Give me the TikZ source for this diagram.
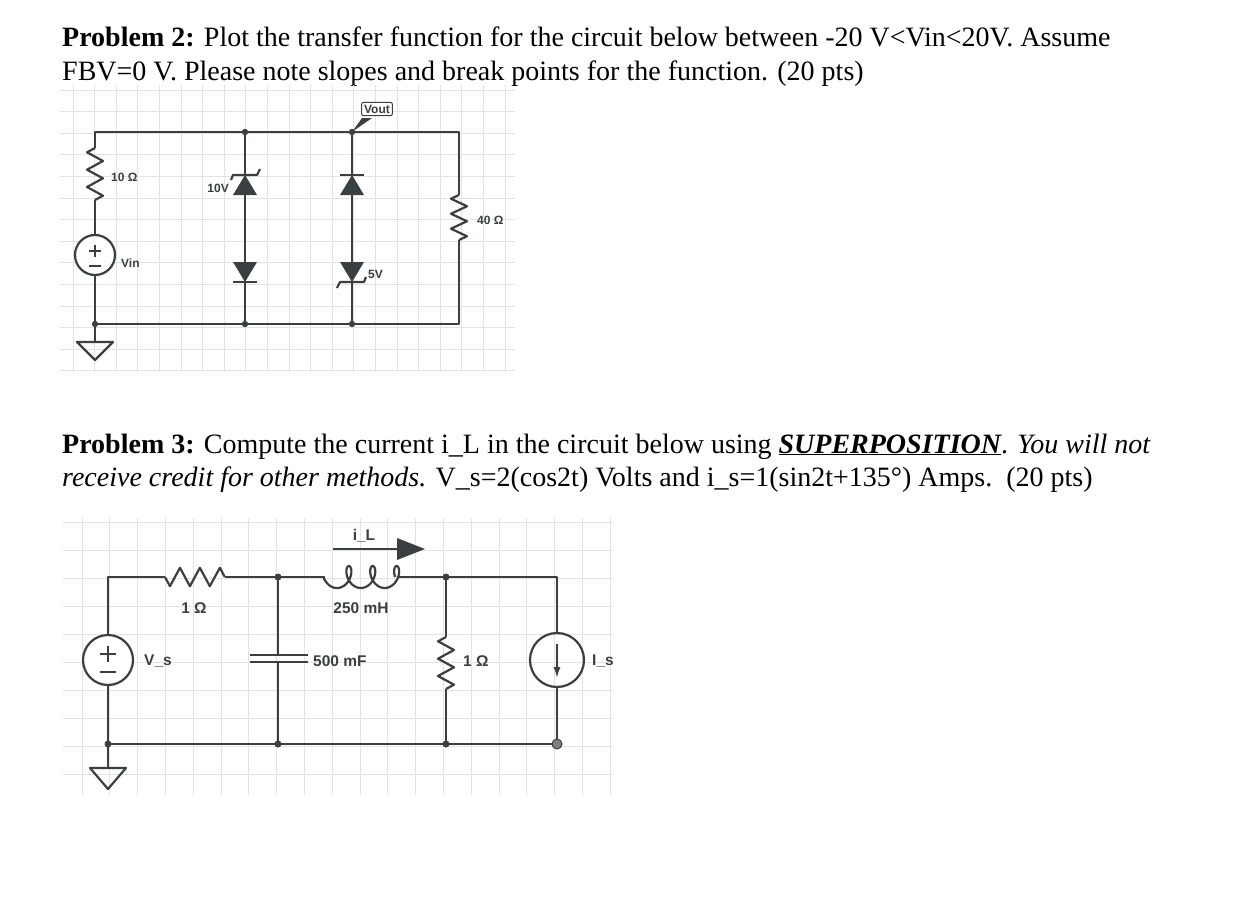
\documentclass[tikz,border=0pt]{standalone}
\usepackage{fontspec}
\usetikzlibrary{arrows.meta}
\setmainfont{Liberation Serif}
\newfontfamily\lsans{Liberation Sans}
\begin{document}
\begin{tikzpicture}[x=1pt,y=-1pt,
  wire/.style={draw=cw,line width=2.2pt,line join=round},
  gridl/.style={draw=gl,line width=0.8pt},
  lab/.style={font=\lsans\bfseries\fontsize{12}{13}\selectfont,text=cw,inner sep=1pt},
  labb/.style={font=\lsans\bfseries\fontsize{15.5}{17}\selectfont,text=cw,inner sep=1pt},
  txt/.style={font=\fontsize{28}{30}\selectfont,anchor=base west,inner sep=0pt},
  dot/.style={fill=cw,draw=none}]
\definecolor{cw}{HTML}{3A3F42}
\definecolor{gl}{HTML}{E3E3E3}
\useasboundingbox (0,0) rectangle (1254,902);
\tikzset{pics/vres/.style={code={\draw[wire] (0,0) -- (-8,4.3) -- (8,13) -- (-8,21.7) -- (8,30.3) -- (-8,39) -- (8,47.7) -- (0,52);}}}
% text
\node[txt] (t1) at (62,46) {\textbf{Problem 2:} Plot the transfer function for the circuit below between -20 V<Vin<20V. Assume};
\node[txt] (t2) at (62,80) {FBV=0 V. Please note slopes and break points for the function. (20 pts)};
\node[txt] (t3) at (62,453) {\textbf{Problem 3:} Compute the current i\_L in the circuit below using \textbf{\textit{\underline{SUPERPOSITION}}}. \textit{You will not}};
\node[txt] (t4) at (62,486) {\textit{receive credit for other methods.} V\_s=2(cos2t) Volts and i\_s=1(sin2t+135°) Amps.\ \ (20 pts)};
% grid 1
\foreach \i in {0,...,20} {\draw[gridl] (73+21.6*\i,85) -- (73+21.6*\i,372);}
\foreach \j in {0,...,13} {\draw[gridl] (60,90+21.6*\j) -- (515,90+21.6*\j);}
% grid 2
\foreach \i in {0,...,19} {\draw[gridl] (82+27.8*\i,518) -- (82+27.8*\i,795);}
\foreach \j in {0,...,9} {\draw[gridl] (63,522+28*\j) -- (613,522+28*\j);}
% ===== circuit 1 =====
\draw[wire] (95,148) -- (95,132) -- (459,132) -- (459,195);
\pic at (95,148) {vres};
\draw[wire] (95,200) -- (95,235);
\draw[wire,fill=white] (95,255) circle (20);
\draw[wire,line width=1.2pt] (89,251) -- (101,251) (95,245) -- (95,257) (89,266) -- (101,266);
\draw[wire] (95,275) -- (95,324) -- (459,324) -- (459,240);
\pic[yscale=0.865] at (459,195) {vres};
\draw[wire] (95,324) -- (95,342);
\draw[wire] (77,342) -- (113,342) -- (95,360) -- cycle;
\node[lab,anchor=west] (r10) at (110,177) {10 Ω};
\node[lab,anchor=west] (vin) at (120,263) {Vin};
\node[lab,anchor=west] (r40) at (476,220) {40 Ω};
% col1
\draw[wire] (245,132) -- (245,324);
\fill[cw] (233,195) -- (257,195) -- (245,175) -- cycle;
\draw[wire] (231,180) -- (233,175) -- (257,175) -- (260,169);
\fill[cw] (233,262) -- (257,262) -- (245,282) -- cycle;
\draw[wire] (233,282) -- (257,282);
\node[lab,anchor=east] (z10) at (230,188) {10V};
% col2
\draw[wire] (352,132) -- (352,324);
\fill[cw] (340,195) -- (364,195) -- (352,175) -- cycle;
\draw[wire] (340,175) -- (364,175);
\fill[cw] (340,262) -- (364,262) -- (352,282) -- cycle;
\draw[wire] (337,288) -- (340,282) -- (364,282) -- (366,277);
\node[lab,anchor=west] (z5) at (367,274) {5V};
\foreach \p in {(245,132),(352,132),(95,324),(245,324),(352,324)} {\fill[cw] \p circle (3.2);}
% Vout tag
\fill[cw] (352,132) -- (362,118) -- (372,118) -- cycle;
\node[lab,draw=cw,line width=1pt,rounded corners=2pt,fill=white,inner sep=2.5pt] (vout) at (377,109) {Vout};
% ===== circuit 2 =====
\draw[wire] (108,635) -- (108,577) -- (165,577);
\pic[rotate=90,xscale=1.15,yscale=1.15] at (165,577) {vres};
\draw[wire] (225,577) -- (325,577);
\draw[wire] plot[domain=1.5708:20.42,samples=200,variable=\t] ({325+3.8*\t-7.5*sin(\t r)},{577-11*cos(\t r)});
\draw[wire] (397,577) -- (557,577) -- (557,633);
\draw[wire] (108,685) -- (108,744) -- (557,744) -- (557,687);
\draw[wire,fill=white] (108,660) circle (25);
\draw[wire,line width=1.3pt] (100,654) -- (116,654) (108,646) -- (108,662) (100,672) -- (116,672);
\draw[wire] (557,660) circle (27);
\draw[draw=cw,line width=1.6pt,-{Latex[length=11pt,width=7pt]}] (557,644) -- (557,678);
\draw[wire] (278,577) -- (278,655) (278,662) -- (278,744);
\draw[wire] (250,655) -- (308,655) (250,662) -- (308,662);
\draw[wire] (446,577) -- (446,637);
\pic[yscale=1.0] at (446,637) {vres};
\draw[wire] (446,689) -- (446,744);
\draw[wire] (108,744) -- (108,768);
\draw[wire] (90,768) -- (126,768) -- (108,789) -- cycle;
\foreach \p in {(108,744),(278,744),(446,744),(278,577),(446,577)} {\fill[cw] \p circle (3.5);}
\draw[fill=gray,draw=cw,line width=1pt] (557,744) circle (5);
% i_L arrow
\draw[draw=cw,line width=1.8pt] (333,549) -- (400,549);
\fill[cw] (397,538) -- (425,549) -- (397,560) -- cycle;
\node[labb,anchor=base] (il) at (364,540) {i\_L};
\node[labb] (r1a) at (194,608) {1 Ω};
\node[labb] (l250) at (361,608) {250 mH};
\node[labb,anchor=west] (c500) at (312,661) {500 mF};
\node[labb,anchor=west] (r1b) at (462,661) {1 Ω};
\node[labb,anchor=west] (vs) at (143,661) {V\_s};
\node[labb,anchor=west] (is) at (591,661) {I\_s};
\end{tikzpicture}
\end{document}
